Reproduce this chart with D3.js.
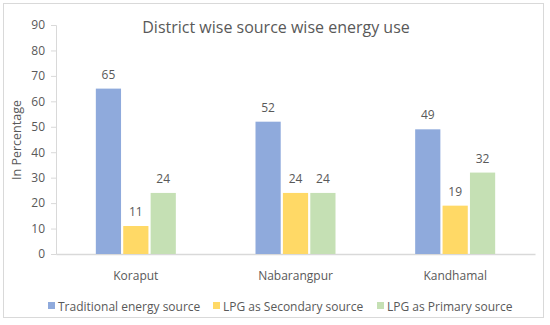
<!DOCTYPE html>
<html>
<head>
  <script src="https://d3js.org/d3.v7.min.js"></script>
  <style>
    body { margin: 0; background: #fff; }
    text { font-family: "Open Sans", "Noto Sans", sans-serif; fill: #595959; }
  </style>
</head>
<body>
  <div id="chart"></div>
  <script>
    var districts = ["Koraput", "Nabarangpur", "Kandhamal"];
    var seriesNames = ["Traditional energy source", "LPG as Secondary source", "LPG as Primary source"];
    var traditional = [65, 52, 49];
    var lpgSecondary = [11, 24, 19];
    var lpgPrimary = [24, 24, 32];
    var yTicks = [0, 10, 20, 30, 40, 50, 60, 70, 80, 90];
    var colors = ["#8faadc", "#ffd966", "#c5e0b4"];

    var allSeries = [traditional, lpgSecondary, lpgPrimary];

    var width = 550, height = 325;
    var margin = {top: 25, right: 15, bottom: 71, left: 56};

    var svg = d3.select("#chart").append("svg")
      .attr("width", width)
      .attr("height", height);

    // outer frame
    svg.append("rect")
      .attr("x", 3.5).attr("y", 3.5)
      .attr("width", 540).attr("height", 314)
      .attr("fill", "#fff")
      .attr("stroke", "#d9d9d9");

    var x0 = d3.scaleBand()
      .domain(districts)
      .range([margin.left, width - margin.right])
      .paddingInner(0).paddingOuter(0);

    var x1 = d3.scaleBand()
      .domain(d3.range(seriesNames.length))
      .range([0, 80])
      .paddingInner(0.08);

    var y = d3.scaleLinear()
      .domain([0, 90])
      .range([height - margin.bottom, margin.top]);

    // y axis
    var yAxis = svg.append("g")
      .attr("transform", "translate(" + margin.left + ",0)")
      .call(d3.axisLeft(y).tickValues(yTicks).tickSize(5).tickPadding(6));
    yAxis.select(".domain").attr("stroke", "#d9d9d9");
    yAxis.selectAll(".tick line").attr("stroke", "#d9d9d9");
    yAxis.selectAll("text").attr("font-size", 12).attr("fill", "#595959")
      .attr("font-family", "'Open Sans', sans-serif");

    // x axis
    var xAxis = svg.append("g")
      .attr("transform", "translate(0," + y(0) + ")")
      .call(d3.axisBottom(x0).tickSize(0).tickPadding(17));
    xAxis.select(".domain").attr("stroke", "#d9d9d9").attr("stroke-width", 1.5);
    xAxis.selectAll("text").attr("font-size", 12).attr("fill", "#595959")
      .attr("font-family", "'Open Sans', sans-serif");

    // bars
    allSeries.forEach(function (vals, si) {
      var g = svg.append("g");
      g.selectAll("rect")
        .data(vals)
        .enter().append("rect")
        .attr("x", function (d, i) {return x0(districts[i]) + (x0.bandwidth() - 80) / 2 + x1(si);})
        .attr("y", function (d) {return y(d);})
        .attr("width", x1.bandwidth())
        .attr("height", function (d) {return y(0) - y(d);})
        .attr("fill", colors[si]);
      g.selectAll("text")
        .data(vals)
        .enter().append("text")
        .attr("x", function (d, i) {return x0(districts[i]) + (x0.bandwidth() - 80) / 2 + x1(si) + x1.bandwidth() / 2;})
        .attr("y", function (d) {return y(d) - 10;})
        .attr("text-anchor", "middle")
        .attr("font-size", 12)
        .text(function (d) {return d;});
    });

    // title
    svg.append("text")
      .attr("x", 276).attr("y", 32.5)
      .attr("text-anchor", "middle")
      .attr("font-size", 16)
      .text("District wise source wise energy use");

    // y title
    svg.append("text")
      .attr("transform", "translate(21,140) rotate(-90)")
      .attr("text-anchor", "middle")
      .attr("font-size", 12.5)
      .text("In Percentage");

    // legend
    var legendX = [48, 213, 377];
    var legend = svg.append("g");
    seriesNames.forEach(function (name, i) {
      legend.append("rect")
        .attr("x", legendX[i]).attr("y", 302)
        .attr("width", 7).attr("height", 7)
        .attr("fill", colors[i]);
      legend.append("text")
        .attr("x", legendX[i] + 10).attr("y", 310.5)
        .attr("font-size", 12)
        .text(name);
    });
  </script>
</body>
</html>
